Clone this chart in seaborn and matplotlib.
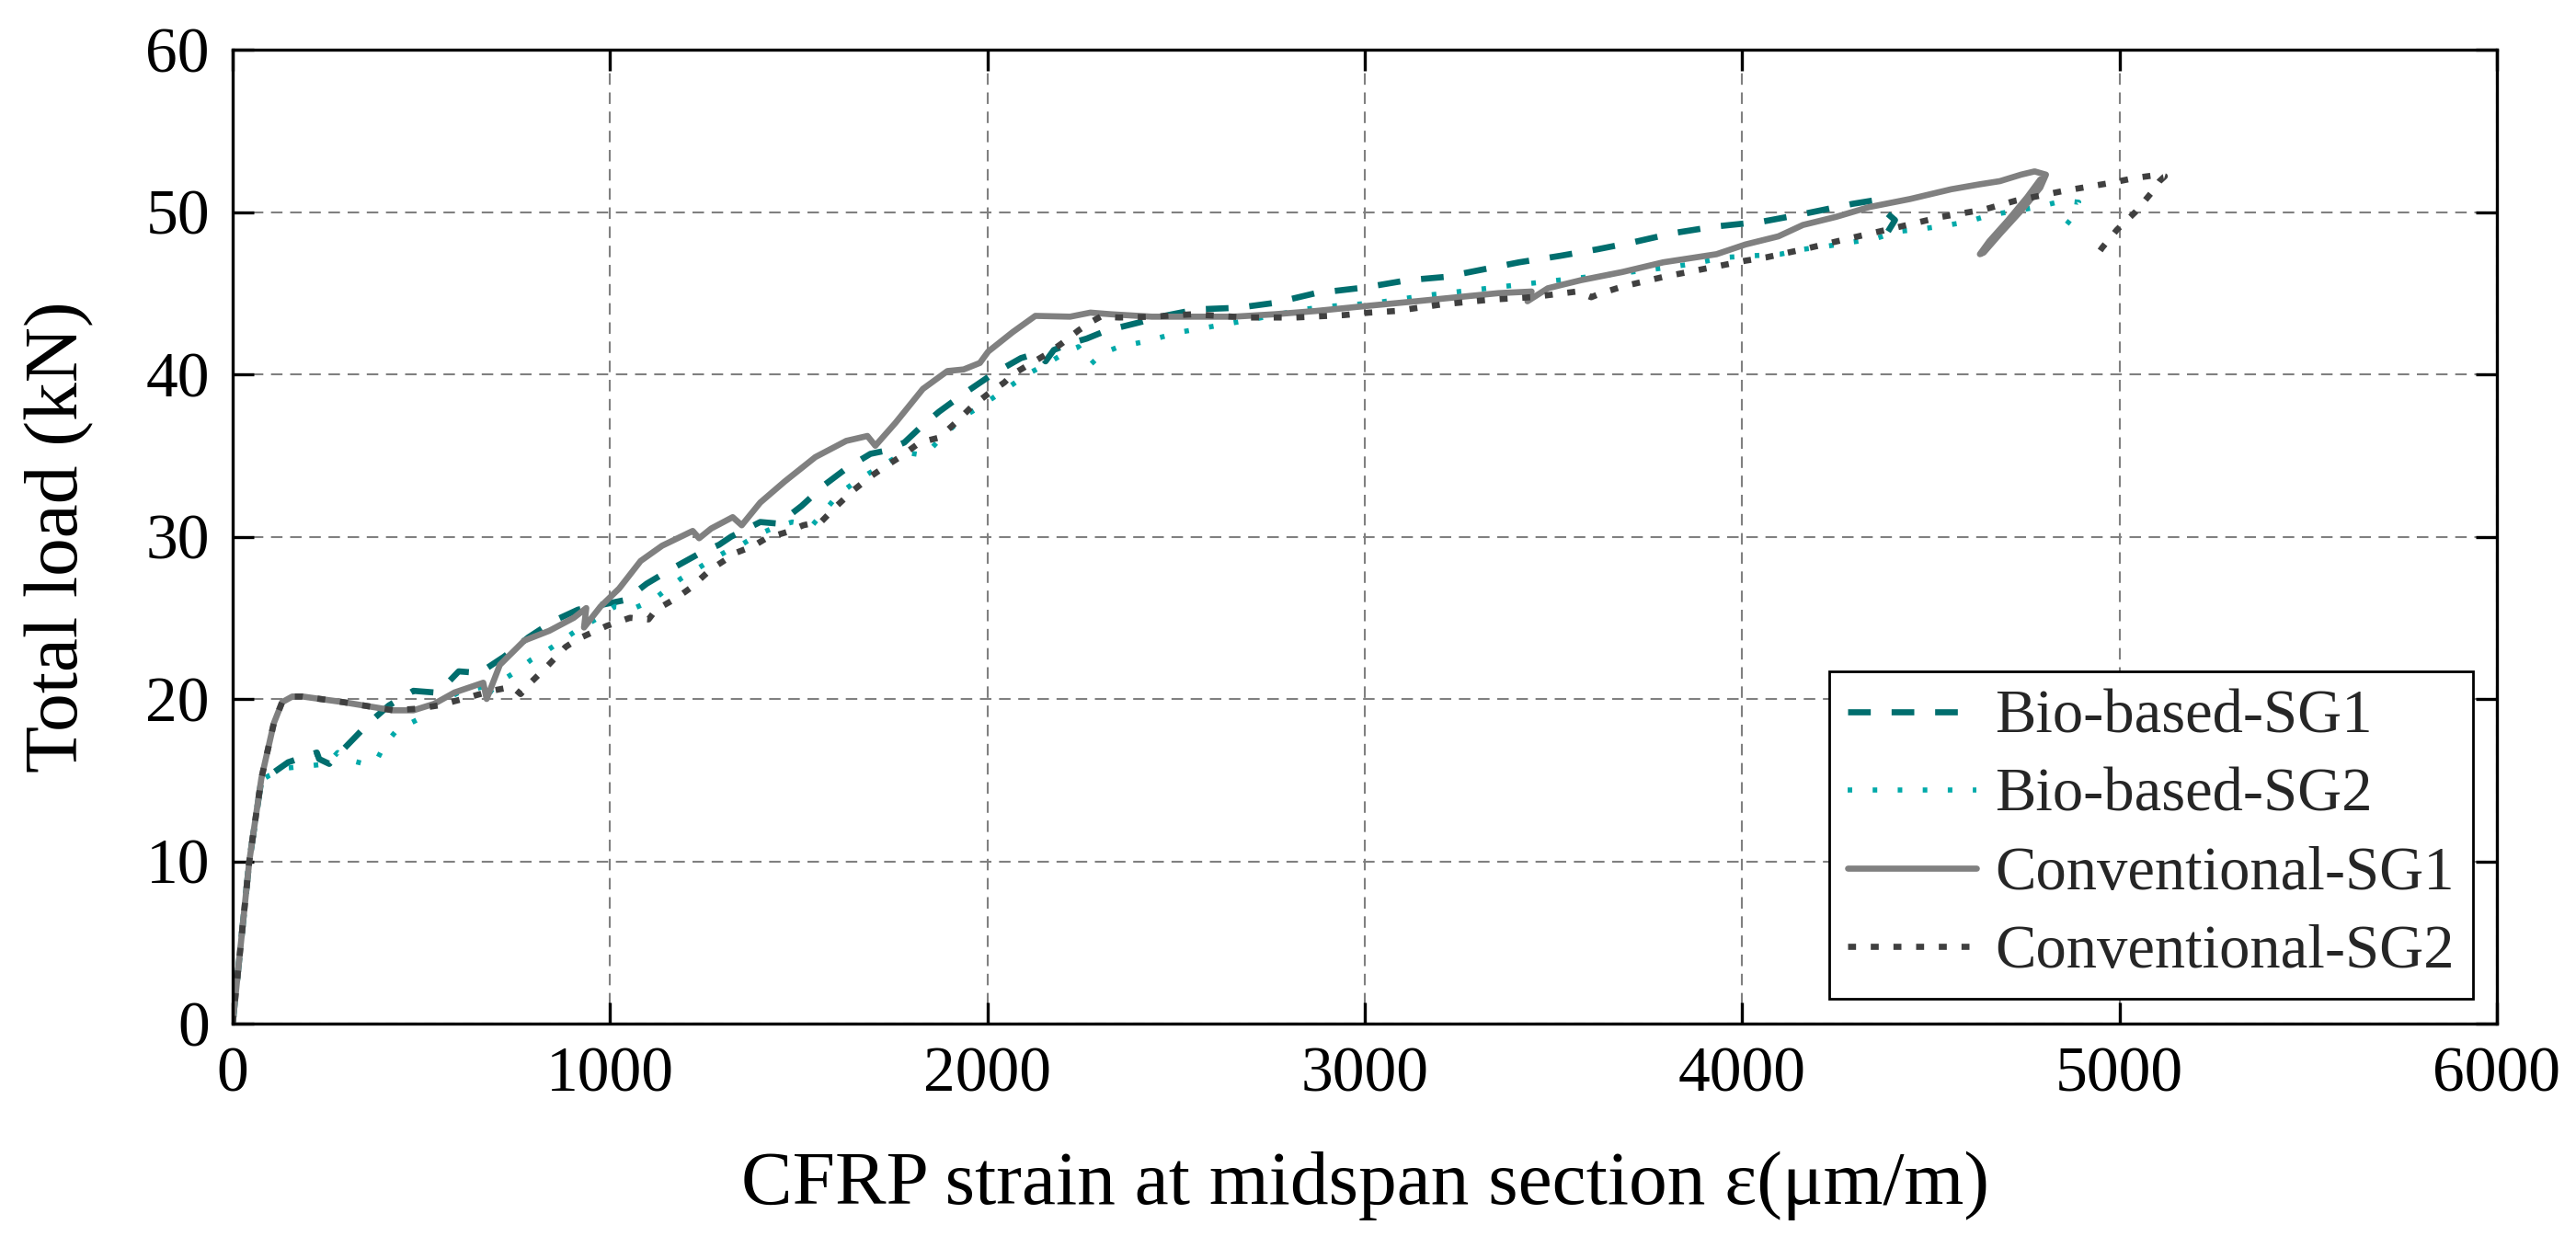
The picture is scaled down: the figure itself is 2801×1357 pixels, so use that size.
import numpy as np
import pandas as pd
import matplotlib
matplotlib.use("Agg")
import matplotlib.pyplot as plt
import seaborn as sns

# ---------------- data ----------------
series_names = ["Bio-based-SG1", "Bio-based-SG2", "Conventional-SG1", "Conventional-SG2"]

bio1_x = [0, 44, 76, 98, 147, 223, 229, 256, 310, 360, 414, 479, 534, 566, 599, 654, 719, 784, 850, 915,
          1041, 1097, 1162, 1232, 1289, 1321, 1398, 1447, 1508, 1569, 1626, 1690, 1731, 1780, 1821, 1872,
          1937, 2013, 2089, 2132, 2154, 2176, 2219, 2263, 2316, 2403, 2458, 2555, 2664, 2761, 2870, 3000,
          3114, 3213, 3311, 3409, 3518, 3616, 3714, 3818, 3927, 4052, 4156, 4292, 4345, 4405, 4368]
bio1_y = [0, 10, 15.0, 15.3, 16.1, 16.7, 16.3, 16.0, 17.3, 18.5, 19.6, 20.5, 20.4, 20.9, 21.7, 21.6, 22.6,
          23.8, 24.8, 25.5, 26.1, 27.1, 28.0, 28.9, 29.5, 30.0, 30.9, 30.8, 31.9, 33.2, 34.2, 35.1, 35.3,
          35.8, 36.7, 37.7, 38.8, 40.0, 41.0, 41.3, 40.8, 41.5, 41.9, 42.2, 42.7, 43.2, 43.55, 44.0, 44.1,
          44.4, 45.0, 45.35, 45.8, 46.0, 46.45, 46.9, 47.3, 47.7, 48.15, 48.7, 49.1, 49.4, 49.85, 50.5,
          50.7, 49.5, 48.1]

bio2_x = [0, 44, 76, 98, 147, 251, 278, 316, 349, 381, 403, 436, 496, 534, 599, 664, 670, 697, 752, 790,
          828, 866, 910, 969, 1013, 1065, 1114, 1158, 1187, 1223, 1264, 1309, 1341, 1390, 1439, 1483,
          1536, 1569, 1605, 1646, 1686, 1727, 1780, 1834, 1870, 1937, 1980, 2018, 2062, 2105, 2154, 2197,
          2241, 2273, 2305, 2349, 2414, 2511, 2609, 2707, 2837, 2913, 3027, 3158, 3289, 3420, 3551, 3671,
          3791, 3867, 3954, 4025, 4101, 4161, 4227, 4292, 4352, 4412, 4456, 4521, 4598, 4655, 4782, 4852,
          4892, 4883, 4831]
bio2_y = [0, 10, 15.0, 15.3, 15.75, 16.0, 16.7, 16.2, 16.0, 16.2, 17.2, 18.1, 18.8, 19.6, 20.4, 20.75,
          20.0, 20.9, 21.7, 22.4, 22.9, 23.5, 24.2, 25.0, 25.7, 25.6, 26.1, 26.9, 27.4, 27.9, 28.5, 29.1,
          29.4, 30.1, 30.6, 30.9, 30.7, 31.6, 32.6, 33.3, 33.9, 34.45, 35.2, 35.0, 35.9, 37.4, 38.0, 38.6,
          39.3, 40.0, 40.6, 41.2, 41.7, 40.6, 41.3, 41.7, 42.0, 42.6, 43.0, 43.4, 44.0, 44.2, 44.4, 44.85,
          45.2, 45.55, 45.9, 46.2, 46.55, 46.8, 47.2, 47.3, 47.4, 47.7, 47.9, 48.15, 48.35, 48.8, 48.9,
          49.1, 49.4, 49.8, 50.3, 50.7, 50.6, 49.9, 48.4]

conv1_x = [0, 44, 76, 109, 131, 158, 185, 294, 425, 479, 534, 588, 664, 673, 708, 773, 839, 904, 937, 931,
           975, 1024, 1081, 1138, 1219, 1236, 1268, 1325, 1349, 1398, 1463, 1544, 1626, 1682, 1703, 1756,
           1829, 1894, 1937, 1980, 2002, 2067, 2127, 2219, 2273, 2327, 2436, 2653, 2761, 2870, 3000, 3136,
           3245, 3354, 3442, 3431, 3485, 3573, 3682, 3791, 3932, 4009, 4096, 4161, 4249, 4336, 4445, 4554,
           4628, 4683, 4739, 4775, 4805, 4790, 4740, 4685, 4640, 4630, 4655, 4705, 4755, 4790]
conv1_y = [0, 10, 15.1, 18.5, 19.8, 20.15, 20.15, 19.8, 19.3, 19.3, 19.7, 20.4, 21.0, 20.0, 22.1, 23.6,
           24.2, 25.0, 25.6, 24.4, 25.7, 26.8, 28.5, 29.44, 30.35, 29.9, 30.5, 31.2, 30.7, 32.1, 33.4, 34.9,
           35.9, 36.2, 35.6, 37.0, 39.1, 40.2, 40.3, 40.7, 41.4, 42.6, 43.6, 43.55, 43.8, 43.7, 43.55, 43.55,
           43.7, 43.9, 44.2, 44.5, 44.75, 45.0, 45.1, 44.5, 45.3, 45.8, 46.3, 46.9, 47.4, 48.0, 48.5, 49.2,
           49.7, 50.3, 50.8, 51.4, 51.7, 51.9, 52.3, 52.5, 52.3, 51.5, 50.1, 48.7, 47.5, 47.4, 48.2, 49.5,
           50.9, 52.0]

conv2_x = [0, 44, 76, 109, 131, 158, 185, 294, 425, 490, 545, 610, 686, 741, 763, 785, 833, 882, 915, 991,
           1053, 1102, 1122, 1175, 1211, 1268, 1301, 1333, 1378, 1414, 1471, 1512, 1561, 1601, 1642, 1690,
           1731, 1768, 1821, 1872, 1915, 1958, 2002, 2045, 2067, 2110, 2154, 2197, 2241, 2273, 2300, 2349,
           2436, 2544, 2685, 2816, 2946, 3011, 3082, 3202, 3333, 3442, 3562, 3600, 3627, 3682, 3791, 3900,
           4009, 4063, 4162, 4289, 4401, 4528, 4641, 4725, 4852, 4979, 5042, 5106, 5120, 5106, 5085, 5042,
           4993, 4954, 4948]
conv2_y = [0, 10, 15.1, 18.5, 19.8, 20.15, 20.15, 19.8, 19.3, 19.4, 19.6, 20.0, 20.5, 20.75, 20.3, 20.9,
           22.0, 23.2, 23.7, 24.5, 25.0, 24.9, 25.5, 26.2, 26.8, 28.0, 28.5, 29.0, 29.4, 29.9, 30.3, 30.7,
           30.95, 31.9, 32.8, 33.7, 34.35, 34.9, 35.8, 36.1, 37.0, 38.0, 38.8, 39.5, 40.0, 40.6, 41.2, 41.9,
           42.7, 43.2, 43.55, 43.5, 43.55, 43.7, 43.5, 43.5, 43.65, 43.8, 43.9, 44.3, 44.6, 44.75, 45.1,
           44.75, 45.0, 45.4, 46.0, 46.5, 47.0, 47.2, 47.7, 48.4, 49.0, 49.7, 50.15, 50.7, 51.3, 51.8, 52.1,
           52.3, 52.2, 51.9, 51.2, 50.0, 48.9, 47.8, 47.6]

x_ticks = [0, 1000, 2000, 3000, 4000, 5000, 6000]
y_ticks = [0, 10, 20, 30, 40, 50, 60]

# ---------------- style ----------------
sns.set_theme(style="white")
plt.rcParams["font.family"] = ["Liberation Serif", "DejaVu Serif"]

fig = plt.figure(figsize=(2801 / 200, 1357 / 200), dpi=200)
ax = fig.add_axes([253 / 2801, 1 - 1113 / 1357, (2715 - 253) / 2801, (1113 - 54) / 1357])

styles = {
    "Bio-based-SG1": dict(color="#006e6e", lw=2.4, dashes=(3.7, 3.4)),
    "Bio-based-SG2": dict(color="#00a9a9", lw=2.0, dashes=(0.9, 4.0)),
    "Conventional-SG1": dict(color="#808080", lw=2.4, dashes=None),
    "Conventional-SG2": dict(color="#404040", lw=2.4, dashes=(1.3, 2.4)),
}
data = {
    "Bio-based-SG1": (bio1_x, bio1_y),
    "Bio-based-SG2": (bio2_x, bio2_y),
    "Conventional-SG1": (conv1_x, conv1_y),
    "Conventional-SG2": (conv2_x, conv2_y),
}

handles = []
for name in series_names:
    xs, ys = data[name]
    df = pd.DataFrame({"x": xs, "y": ys})
    st = styles[name]
    n_before = len(ax.lines)
    sns.lineplot(data=df, x="x", y="y", sort=False, estimator=None, ax=ax,
                 color=st["color"], linewidth=st["lw"], legend=False)
    line = ax.lines[n_before]
    line.set_label(name)
    if st["dashes"] is not None:
        line.set_dashes(st["dashes"])
        line.set_dash_capstyle("butt")
    else:
        line.set_solid_capstyle("round")
        line.set_solid_joinstyle("round")
    handles.append(line)

ax.set_xlim(0, 6000)
ax.set_ylim(0, 60)
ax.set_xticks(x_ticks)
ax.set_yticks(y_ticks)
ax.set_xticklabels([str(t) for t in x_ticks])
ax.set_yticklabels([str(t) for t in y_ticks])

ax.grid(True, color="#808080", linestyle=(0, (6, 4)), linewidth=0.75)
ax.set_axisbelow(True)

for sp in ax.spines.values():
    sp.set_visible(True)
    sp.set_color("black")
    sp.set_linewidth(1.2)

ax.tick_params(axis="both", which="major", direction="in", length=8.3, width=1.2,
               top=True, right=True, bottom=True, left=True, labelsize=25, pad=9, colors="black")

ax.set_xlabel("CFRP strain at midspan section ε(μm/m)", fontsize=30, labelpad=18, color="black")
ax.set_ylabel("Total load (kN)", fontsize=30, labelpad=20, color="black")

leg = ax.legend(handles=handles, labels=series_names, loc="lower right",
                bbox_to_anchor=(0.9894, 0.0255), borderaxespad=0, fontsize=24,
                frameon=True, fancybox=False, framealpha=1, edgecolor="black",
                handlelength=2.1, handletextpad=0.3, labelspacing=0.36, borderpad=0.3)
leg.get_frame().set_linewidth(1.0)

fig.savefig("out.png", dpi=200, facecolor="white")
